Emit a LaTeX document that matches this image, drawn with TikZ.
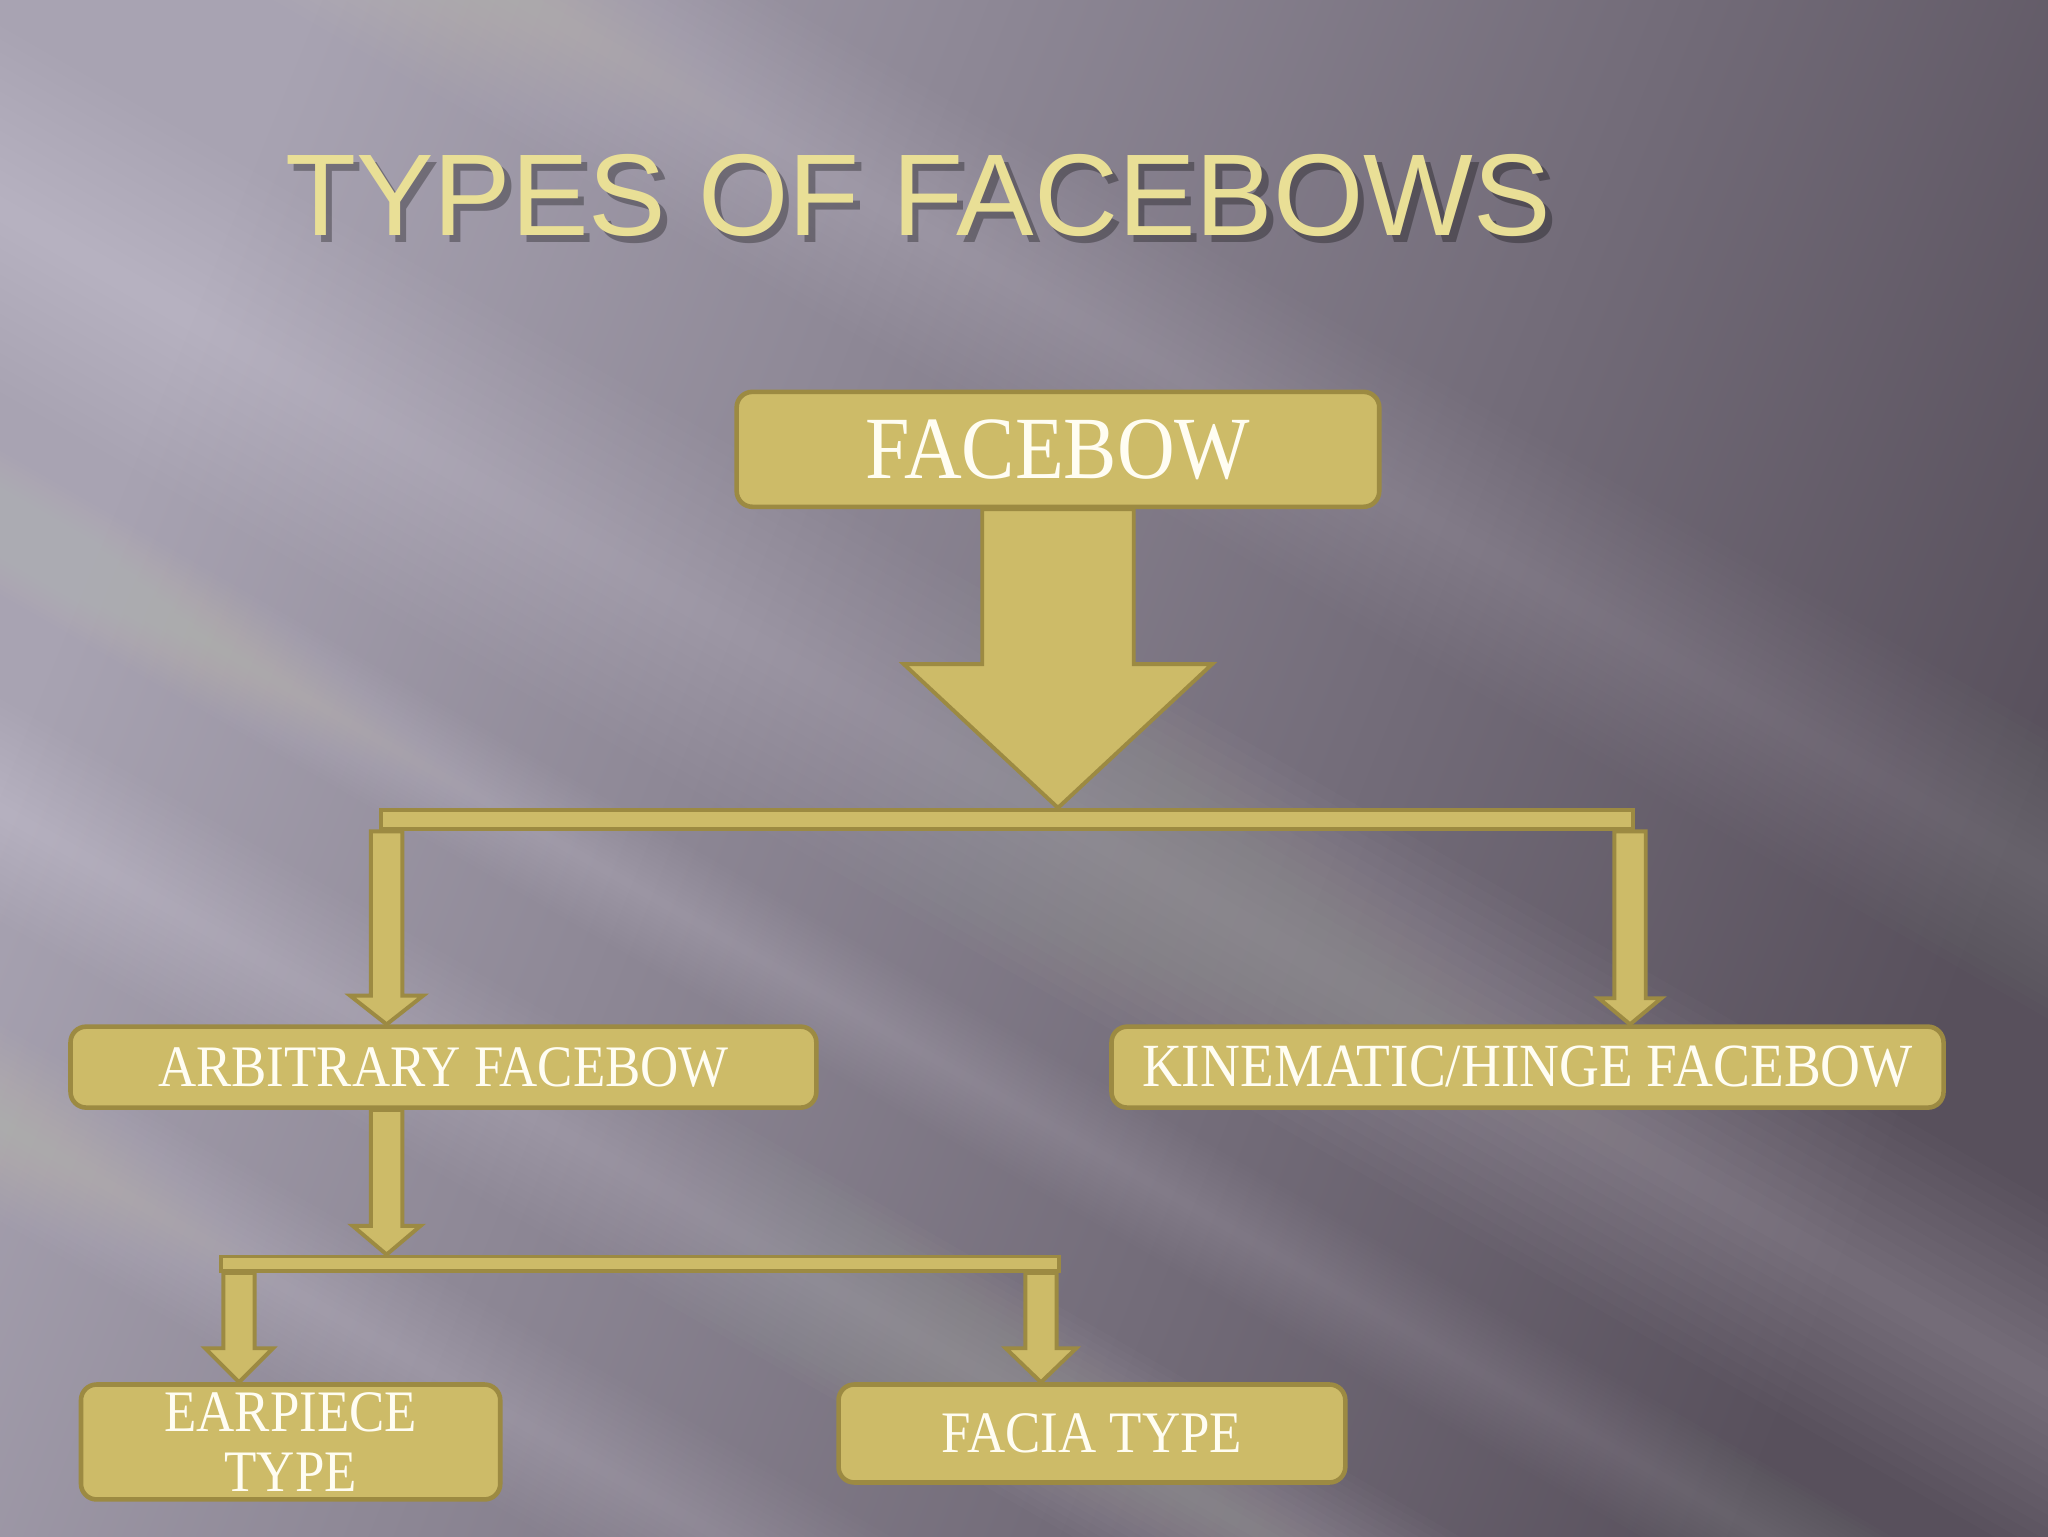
\documentclass[tikz,border=0pt]{standalone}
\usepackage{fontspec}
\usetikzlibrary{calc}
\newfontfamily\titlefont{Liberation Sans}
\newfontfamily\boxfont[FakeStretch=0.9]{Liberation Serif}
\definecolor{gold}{RGB}{205,187,104}
\definecolor{goldedge}{RGB}{156,138,66}
\definecolor{titlegold}{RGB}{233,223,150}
\definecolor{bgA}{RGB}{168,163,178}
\definecolor{bgB}{RGB}{88,80,92}
\definecolor{labelwhite}{RGB}{255,253,242}
\tikzset{
  box/.style={draw=goldedge, line width=3.5pt, fill=gold, rounded corners=12pt,
    inner sep=0pt, text=labelwhite, align=center,
    font=\boxfont\fontsize{45}{46}\selectfont},
  barbox/.style={draw=goldedge, line width=3pt, fill=gold, inner sep=0pt},
  blockarrow/.style={draw=goldedge, line width=3pt, fill=gold, line join=miter},
  titletext/.style={anchor=base west, inner sep=0pt, font=\titlefont\fontsize{89}{89}\selectfont},
}
% #1 start coordinate (x and y of shaft top), #2 coordinate giving tip y,
% #3 shaft half width, #4 head half width, #5 head length
\newcommand\blockarr[5]{%
  \draw[blockarrow] let \p1=#1, \p2=#2 in
    (\x1-#3pt,\y1) -- (\x1+#3pt,\y1) -- (\x1+#3pt,\y2+#5pt) -- (\x1+#4pt,\y2+#5pt)
    -- (\x1,\y2) -- (\x1-#4pt,\y2+#5pt) -- (\x1-#3pt,\y2+#5pt) -- cycle;}
% soft diagonal light streak: #1 intercept at x=0, #2 half width, #3 opacity per layer
\newcommand\streak[3]{%
  \foreach \k in {1,...,14}{%
    \fill[white, opacity=#3] (0,#1-#2*\k/14) -- (1568,#1-#2*\k/14+900)
      -- (1568,#1+#2*\k/14+900) -- (0,#1+#2*\k/14) -- cycle;}}
\begin{document}
\begin{tikzpicture}[x=1pt,y=-1pt]
\useasboundingbox (0,0) rectangle (1568,1176);
\begin{scope}
  \clip (0,0) rectangle (1568,1176);
  \shade[top color=bgA, bottom color=bgB, shading angle=68] (0,0) rectangle (1568,1176);
  \streak{160}{140}{0.017}
  \streak{620}{85}{0.017}
  \streak{400}{55}{0.012}
  \streak{860}{75}{0.013}
  \streak{-230}{110}{0.013}
\end{scope}

% title with its shadow
\node[titletext, text=black, opacity=0.3] (tshadow) at (223,186) {TYPES OF FACEBOWS};
\node[titletext, text=titlegold] (title) at (218,180) {TYPES OF FACEBOWS};

% boxes
\node[box, minimum width=492pt, minimum height=88pt,
      font=\boxfont\fontsize{68}{70}\selectfont] (fb) at (810,344) {FACEBOW};
\node[barbox, minimum width=959pt, minimum height=15pt] (bar1) at (771,627.5) {};
\node[box, minimum width=571pt, minimum height=62pt] (arb) at (339.5,817) {ARBITRARY FACEBOW};
\node[box, minimum width=637pt, minimum height=62pt,
      font=\boxfont\fontsize{47}{48}\selectfont] (kin) at (1169.5,817) {KINEMATIC/HINGE FACEBOW};
\node[barbox, minimum width=641pt, minimum height=11pt] (bar2) at (490,967.5) {};
\node[box, minimum width=321pt, minimum height=88pt] (ear) at (222.5,1104) {EARPIECE\\TYPE};
\node[box, minimum width=388pt, minimum height=75pt] (fac) at (836,1097.5) {FACIA TYPE};

% branch points
\coordinate (l1) at ($(bar1.south west)+(6,0)$);
\coordinate (r1) at ($(bar1.south east)+(-4,0)$);
\coordinate (ls) at ($(bar2.south west)+(15,0)$);
\coordinate (rs) at ($(bar2.south east)+(-15,0)$);

% connectors
\blockarr{(fb.south)}{(bar1.north)}{58}{118}{110}
\blockarr{(l1)}{(arb.north)}{12}{28}{22}
\blockarr{(r1)}{(kin.north)}{12}{24}{20}
\blockarr{(arb.south -| l1)}{(bar2.north)}{12}{26}{22}
\blockarr{(ls)}{(ear.north)}{12}{26}{26}
\blockarr{(rs)}{(fac.north)}{12}{27}{26}
\end{tikzpicture}
\end{document}
